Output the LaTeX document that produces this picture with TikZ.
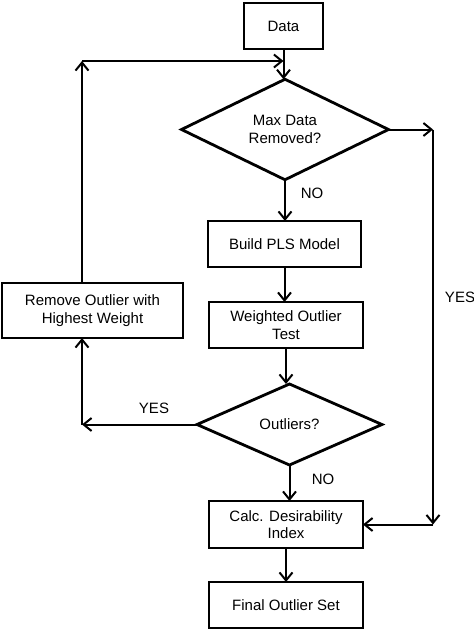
\documentclass[tikz,border=0pt]{standalone}
\usepackage{fontspec}
\setmainfont{Liberation Sans}
\usetikzlibrary{shapes.geometric,arrows.meta}
\begin{document}
\begin{tikzpicture}[x=1pt,y=-1pt,
  every node/.style={font=\fontsize{15}{17.5}\selectfont},
  box/.style={draw, line width=2.8pt, rectangle, inner sep=0pt, outer sep=0pt, align=center},
  dia/.style={draw, line width=2.8pt, diamond, inner sep=0pt, outer sep=0pt, align=center},
  arr/.style={line width=2pt, -{Straight Barb[length=8pt,width=13pt,line width=2pt]}},
  lbl/.style={inner sep=0pt}]
\useasboundingbox (0,0) rectangle (474,630);
\node[box, minimum width=79pt, minimum height=46pt] (data) at (283.5,26) {Data};
\node[dia, minimum width=207pt, minimum height=87pt] (d1) at (285,129.5) {Max Data\\Removed?};
\node[box, minimum width=153pt, minimum height=46pt] (build) at (284.5,244) {Build PLS Model};
\node[box, minimum width=154pt, minimum height=46pt] (wot) at (286,325) {Weighted Outlier\\Test};
\node[dia, minimum width=185pt, minimum height=81pt] (d2) at (289.5,424.5) {Outliers?};
\node[box, minimum width=181pt, minimum height=55pt] (remove) at (92.5,310.5) {Remove Outlier with\\Highest Weight};
\node[box, minimum width=154pt, minimum height=47pt] (calc) at (286,524.5) {Calc. Desirability\\Index};
\node[box, minimum width=154pt, minimum height=46pt] (final) at (286,605) {Final Outlier Set};

\coordinate (c1) at (82,61);
\coordinate (c2) at (433,129.5);
\coordinate (c3) at (82,424.5);

\draw[arr] (data.south) -- (data.south |- d1.north);
\draw[arr] (d1.south) -- (d1.south |- build.north);
\draw[arr] (build.south) -- (build.south |- wot.north);
\draw[arr] (wot.south) -- (wot.south |- d2.north);
\draw[arr] (d2.south) -- (d2.south |- calc.north);
\draw[arr] (calc.south) -- (calc.south |- final.north);

\draw[arr] (remove.north -| c1) -- (c1);
\draw[arr] (c1) -- (data.south |- c1);

\draw[arr] (d1.east) -- (c2);
\draw[arr] (c2) -- (c2 |- calc.east);
\draw[arr] (c2 |- calc.east) -- (calc.east);

\draw[arr] (d2.west) -- (c3);
\draw[arr] (c3) -- (remove.south -| c3);

\node[lbl] (no1) at (312,193) {NO};
\node[lbl] (no2) at (323,479) {NO};
\node[lbl] (yes1) at (154,408) {YES};
\node[lbl] (yes2) at (460,297) {YES};
\end{tikzpicture}
\end{document}
